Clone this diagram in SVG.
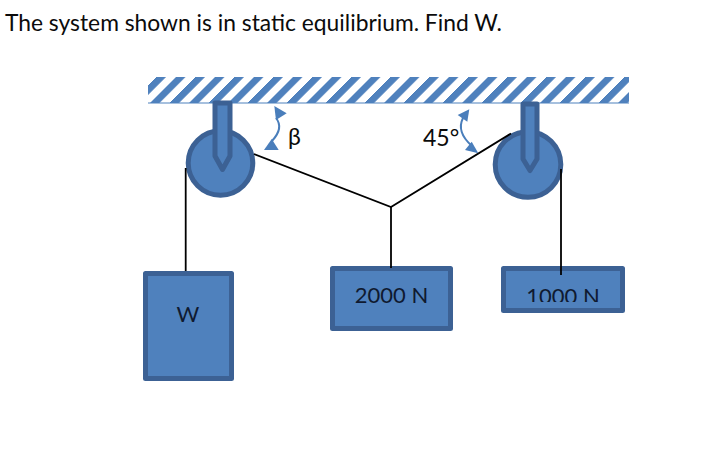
<svg xmlns="http://www.w3.org/2000/svg" width="720" height="450" viewBox="0 0 720 450">
<style>
.s{fill:#4f81bd;stroke:#3c6194;stroke-width:5;stroke-linejoin:round}
.r{fill:none;stroke:#000;stroke-width:1.800}
.a{fill:#4a7ebb}
.c{fill:none;stroke:#4a7ebb;stroke-width:2}
.t{font-family:Lato,"Open Sans",sans-serif;fill:#0b0b0b}
.l{font-family:Lato,"Open Sans",sans-serif;fill:#0f1a30;font-size:22px;text-anchor:middle}
</style>
<defs>
<pattern id="h" patternUnits="userSpaceOnUse" width="19.500" height="26" x="-0.500" y="77" patternTransform="skewX(-45)">
<rect x="0" y="0" width="9.500" height="26" fill="#4f81bd"/>
</pattern>
<clipPath id="k"><rect x="500" y="270" width="126" height="32"/></clipPath>
</defs>
<rect width="720" height="450" fill="#fff"/>
<text class="t" x="5" y="31" font-size="23.500" textLength="497" lengthAdjust="spacingAndGlyphs">The system shown is in static equilibrium. Find W.</text>
<g id="ceiling">
<rect x="148" y="77" width="481" height="26" fill="url(#h)"/>
<line x1="148" y1="103" x2="629" y2="103" stroke="#4f81bd" stroke-width="1.200"/>
</g>
<g id="pulley-left">
<circle class="s" cx="220.500" cy="163" r="32.300"/>
<path class="s" d="M215 103H230V156L222.500 169.500L215 156Z"/>
</g>
<g id="pulley-right">
<circle class="s" cx="528" cy="164.500" r="32.800"/>
<path class="s" d="M523 104H537V159L530 170.500L523 159Z"/>
</g>
<g id="block-w">
<rect class="s" x="145.500" y="273.500" width="86" height="105"/>
<text class="l" x="188" y="322">W</text>
</g>
<g id="block-2000">
<rect class="s" x="332.500" y="268.500" width="118" height="60"/>
<text class="l" x="391.500" y="303">2000 N</text>
</g>
<g id="block-1000">
<rect class="s" x="503.500" y="268.500" width="119" height="42"/>
<text class="l" x="563" y="304" clip-path="url(#k)">1000 N</text>
</g>
<g id="connectors">
<path class="r" d="M185.700 168V271"/>
<path class="r" d="M561 169V275"/>
<path class="r" d="M254 154L391 207L511 133.500"/>
<path class="r" d="M391 207V268"/>
</g>
<g id="angle-beta">
<path class="c" d="M276 118Q284 128 272 141"/>
<path class="a" d="M274.300 106L286.700 113.300L276 120Z"/>
<path class="a" d="M264 150L278.700 150L271.700 139Z"/>
<text class="t" x="288" y="145" font-size="23">β</text>
</g>
<g id="angle-45">
<path class="c" d="M463 118Q456 132 472 146"/>
<path class="a" d="M469.300 109.300L457.700 115L467.300 121.700Z"/>
<path class="a" d="M478.300 153.300L465 150L471.700 141.700Z"/>
<text class="t" x="423" y="146" font-size="23">45°</text>
</g>
</svg>
